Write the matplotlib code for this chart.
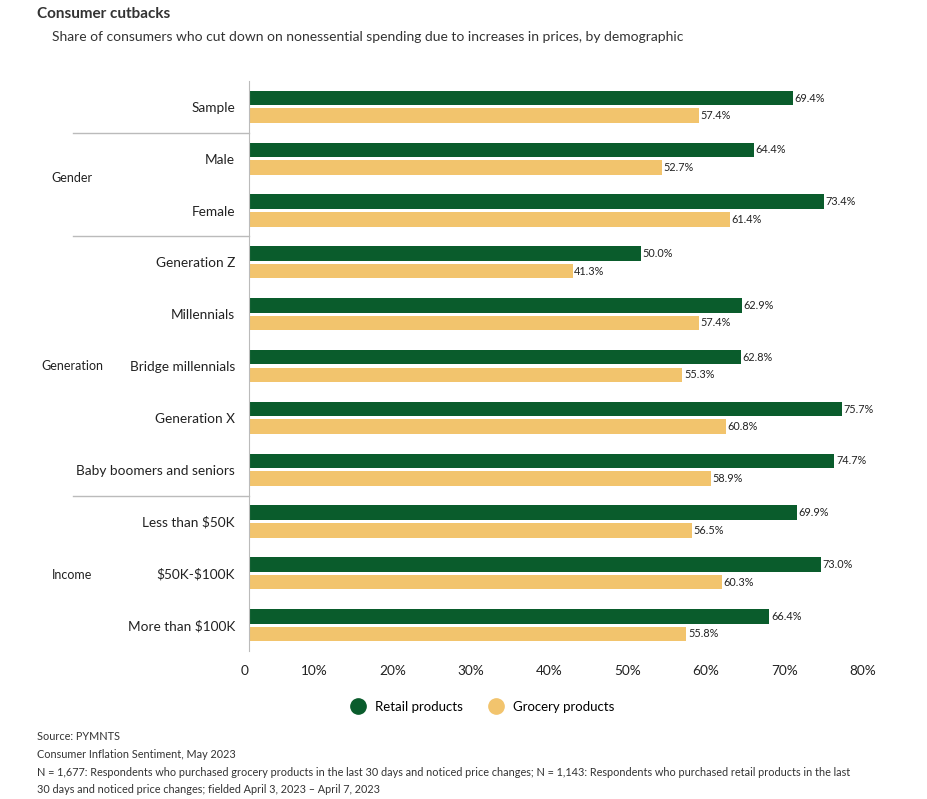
import matplotlib
matplotlib.use("Agg")
import matplotlib.pyplot as plt
from matplotlib.lines import Line2D

categories = ["Sample", "Male", "Female", "Generation Z", "Millennials", "Bridge millennials",
              "Generation X", "Baby boomers and seniors", "Less than \\$50K", "\\$50K-\\$100K", "More than \\$100K"]
retail = [69.4, 64.4, 73.4, 50.0, 62.9, 62.8, 75.7, 74.7, 69.9, 73.0, 66.4]
grocery = [57.4, 52.7, 61.4, 41.3, 57.4, 55.3, 60.8, 58.9, 56.5, 60.3, 55.8]
groups = [("Gender", 1.38), ("Generation", 5.0), ("Income", 9.03)]
separators = [0.5, 2.5, 7.5]
xticks = [0, 10, 20, 30, 40, 50, 60, 70, 80]
xticklabels = ["0", "10%", "20%", "30%", "40%", "50%", "60%", "70%", "80%"]

GREEN = "#0a5c2c"
YELLOW = "#f2c46d"
plt.rcParams["font.family"] = "Lato"

W, H = 928, 799
fig = plt.figure(figsize=(9.28, 7.99), dpi=100)
ax = fig.add_axes([249/W, 1-651/H, 627/W, 570/H])
y = list(range(len(categories)))
h = 0.28
ax.barh([v - 0.17 for v in y], retail, height=h, color=GREEN)
ax.barh([v + 0.17 for v in y], grocery, height=h, color=YELLOW)
for i in y:
    ax.text(retail[i] + 0.2, i - 0.17, f"{retail[i]:.1f}%", va="center", ha="left", fontsize=7.8, color="#222")
    ax.text(grocery[i] + 0.2, i + 0.17, f"{grocery[i]:.1f}%", va="center", ha="left", fontsize=7.8, color="#222")
ax.set_ylim(10.5, -0.5)
ax.set_xlim(0, 80)
ax.set_yticks(y)
ax.set_yticklabels(categories, fontsize=9.8, color="#222")
ax.set_xticks(xticks)
ax.set_xticklabels(xticklabels, fontsize=9.8, color="#222", ha="right")
ax.tick_params(length=0, pad=10)
ax.tick_params(axis="y", pad=10)
for s in ["top", "right", "bottom"]:
    ax.spines[s].set_visible(False)
ax.spines["left"].set_color("#bbbbbb")
px = 80 / 627
for s in separators:
    ax.plot([-(249-73)*px, 0], [s, s], color="#bbbbbb", lw=1, clip_on=False)
for name, pos in groups:
    ax.text(-(249-72)*px, pos, name, ha="center", va="center", fontsize=9, color="#222", clip_on=False)

fig.text(37/W, 1-14/H, "Consumer cutbacks", fontsize=11, fontweight="bold", color="#333", va="center")
fig.text(52/W, 1-37/H, "Share of consumers who cut down on nonessential spending due to increases in prices, by demographic",
         fontsize=10, color="#333", va="center")

handles = [Line2D([], [], marker="o", ls="", color=GREEN, markersize=11),
           Line2D([], [], marker="o", ls="", color=YELLOW, markersize=11)]
fig.legend(handles, ["Retail products", "Grocery products"], loc="center", bbox_to_anchor=(480/W, 1-707/H),
           ncol=2, frameon=False, fontsize=9.5, handletextpad=0.3, columnspacing=1.5)

foot = ["Source: PYMNTS", "Consumer Inflation Sentiment, May 2023",
        "N = 1,677: Respondents who purchased grocery products in the last 30 days and noticed price changes; N = 1,143: Respondents who purchased retail products in the last",
        "30 days and noticed price changes; fielded April 3, 2023 – April 7, 2023"]
for i, t in enumerate(foot):
    fig.text(37/W, 1-(737 + i*17.5)/H, t, fontsize=7.8, color="#333", va="center")

fig.savefig("out.png", dpi=100)
